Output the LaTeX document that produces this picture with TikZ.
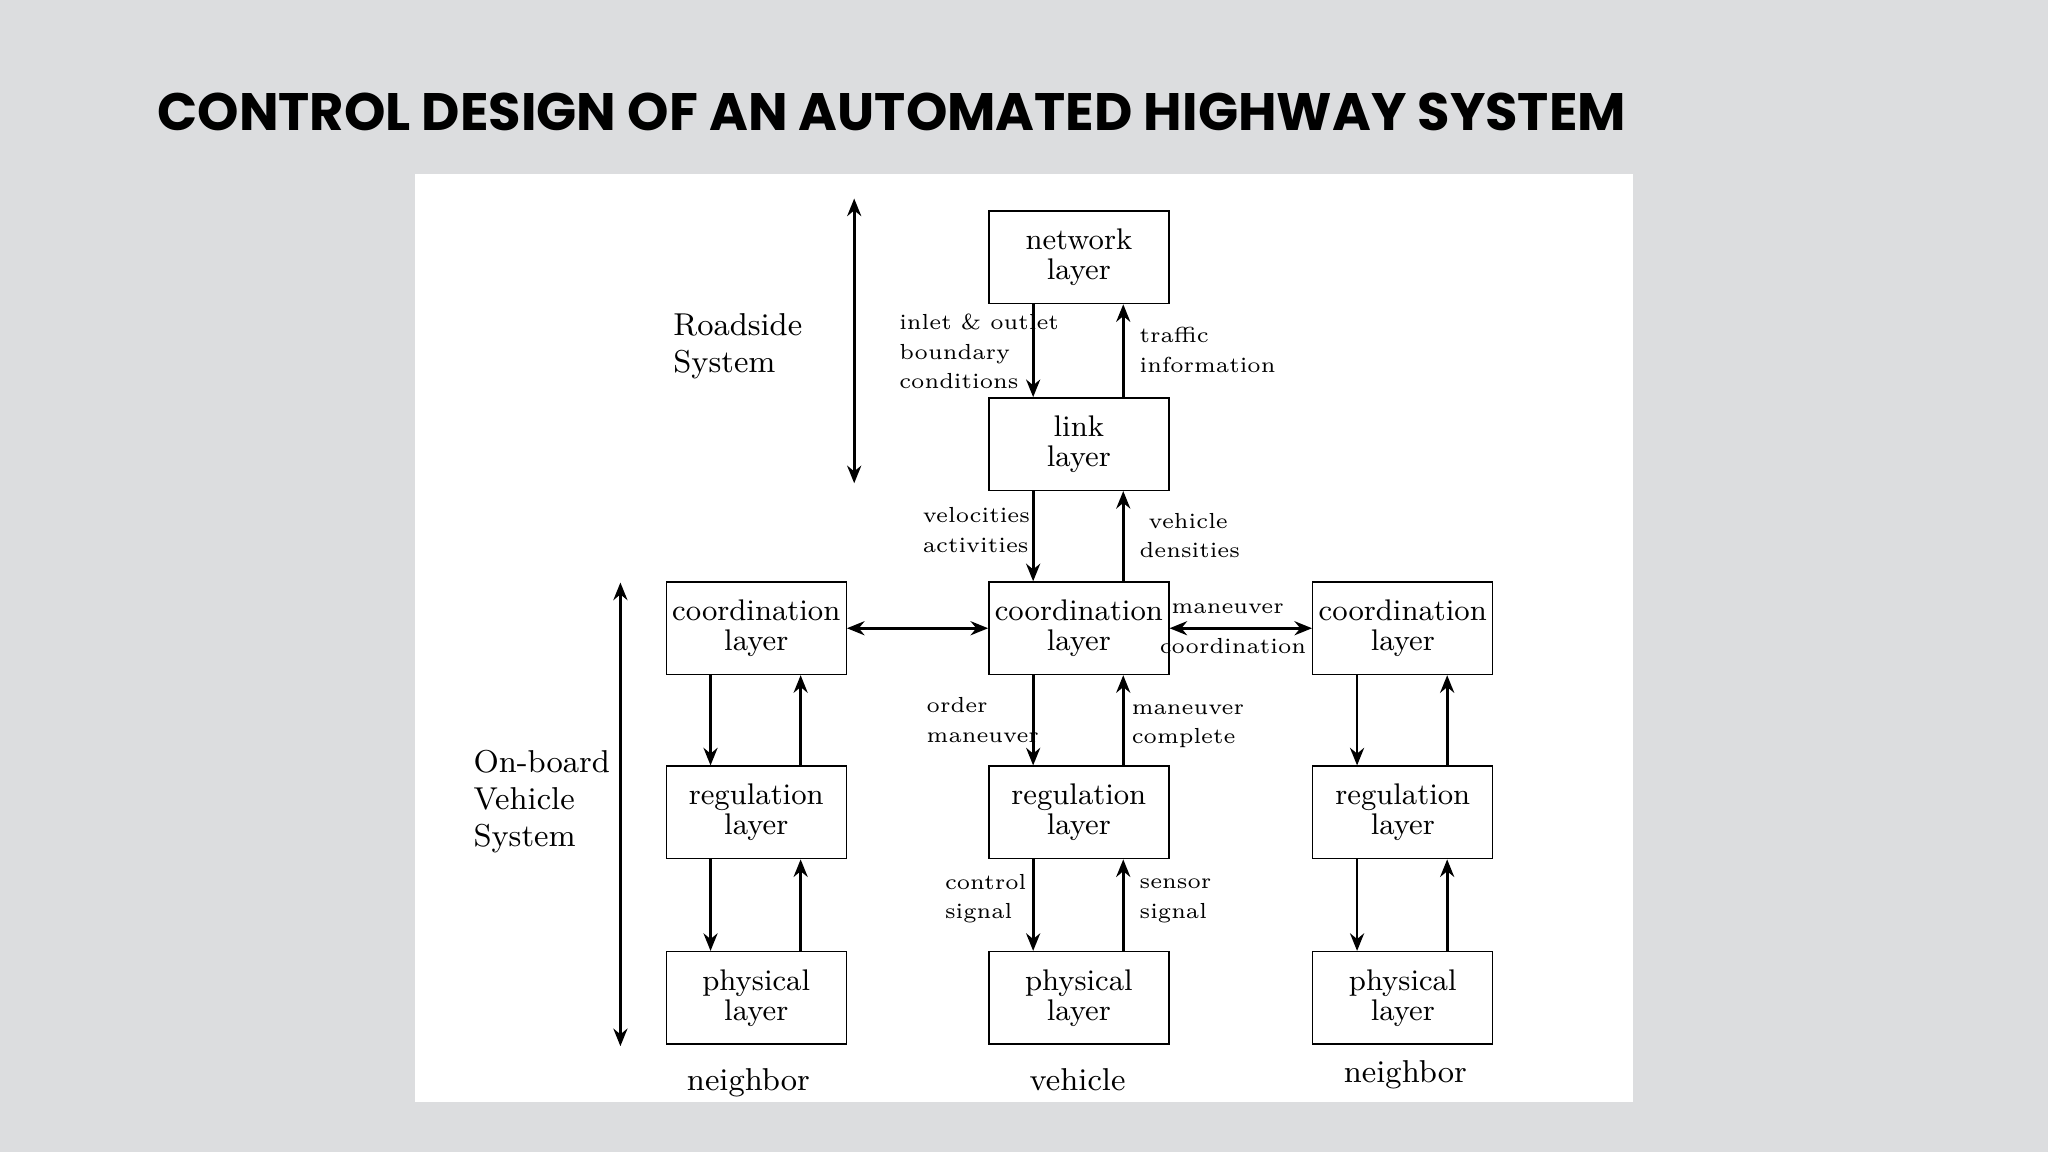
\documentclass[tikz,border=0pt]{standalone}
\usepackage{fontspec}
\newfontfamily\titlefont{Poppins}
\usetikzlibrary{arrows.meta,positioning,calc}
\definecolor{slide}{HTML}{DCDDDF}
\tikzset{
	layer/.style={shape=rectangle,draw=black,fill=white,minimum width=1.80cm,minimum height=0.925cm,inner sep=0pt,align=center,font=\fontsize{8.5}{8.5}\selectfont},
	tag/.style={align=left,inner sep=0pt,font=\fontsize{6.2}{8.5}\selectfont},
	side/.style={align=left,inner sep=0pt,font=\fontsize{9}{10.5}\selectfont},
	flow/.style={-{Stealth[length=5pt,width=4pt]},thick},
	both/.style={{Stealth[length=5pt,width=4pt]}-{Stealth[length=5pt,width=4pt]},thick}
}
\begin{document}
\begin{tikzpicture}[x=0.01306cm,y=-0.01306cm]
	\useasboundingbox (0,0) rectangle (1568,882);
	\fill[slide] (0,0) rectangle (1568,882);
	\fill[white] (318,133) rectangle (1250,844);
	\node[anchor=west,inner sep=0pt,font=\titlefont\bfseries\fontsize{15}{15}\selectfont](T) at (120,86) {CONTROL DESIGN OF AN AUTOMATED HIGHWAY SYSTEM};
	\node[layer](NL) at (826,197) {network\\layer};
	\node[layer](LL) at (826,340) {link\\layer};
	\node[layer](CV) at (826,481) {coordination\\layer};
	\node[layer](CL) at (579,481) {coordination\\layer};
	\node[layer](CR) at (1074,481) {coordination\\layer};
	\node[layer](RV) at (826,622) {regulation\\layer};
	\node[layer](RL) at (579,622) {regulation\\layer};
	\node[layer](RR) at (1074,622) {regulation\\layer};
	\node[layer](PV) at (826,764) {physical\\layer};
	\node[layer](PL) at (579,764) {physical\\layer};
	\node[layer](PR) at (1074,764) {physical\\layer};
	\draw[flow]([xshift=-0.457cm]NL.south) -- ([xshift=-0.457cm]LL.north);
	\draw[flow]([xshift=0.444cm]LL.north) -- ([xshift=0.444cm]NL.south);
	\draw[flow]([xshift=-0.457cm]LL.south) -- ([xshift=-0.457cm]CV.north);
	\draw[flow]([xshift=0.444cm]CV.north) -- ([xshift=0.444cm]LL.south);
	\foreach \c/\r/\p in {CL/RL/PL,CV/RV/PV,CR/RR/PR}{
		\draw[flow]([xshift=-0.457cm]\c.south) -- ([xshift=-0.457cm]\r.north);
		\draw[flow]([xshift=0.444cm]\r.north) -- ([xshift=0.444cm]\c.south);
		\draw[flow]([xshift=-0.457cm]\r.south) -- ([xshift=-0.457cm]\p.north);
		\draw[flow]([xshift=0.444cm]\p.north) -- ([xshift=0.444cm]\r.south);
	}
	\draw[both](CL) -- (CV);
	\draw[both](CV) -- (CR);
	\coordinate(RT) at (654,152);
	\coordinate(RB) at (654,370);
	\draw[both](RT) -- (RB);
	\coordinate(VT) at (475,446);
	\coordinate(VB) at (475,801);
	\draw[both](VT) -- (VB);
	\node[side,anchor=west](RS) at (515,265) {Roadside\\System};
	\node[side,anchor=west](OV) at (362,614) {On-board\\Vehicle\\System};
	\node[tag,anchor=west](IO) at (688,269) {inlet \& outlet\\boundary\\conditions};
	\node[tag,anchor=west](TI) at (872,268) {traffic\\information};
	\node[tag,anchor=west](VA) at (706,406) {velocities\\activities};
	\node[tag,anchor=west](VD) at (872,410) {\ vehicle\\densities};
	\node[tag](MA) at (940,466) {maneuver};
	\node[tag](CO) at (944,495) {coordination};
	\node[tag,anchor=west](OM) at (709,551) {order\\maneuver};
	\node[tag,anchor=west](MC) at (866,556) {maneuver\\complete};
	\node[tag,anchor=west](CS) at (723,688) {control\\signal};
	\node[tag,anchor=west](SS) at (872,690) {sensor\\signal};
	\node[side](NB1) at (573,829) {neighbor};
	\node[side](VH) at (825,827) {vehicle};
	\node[side](NB2) at (1076,823) {neighbor};
\end{tikzpicture}
\end{document}
